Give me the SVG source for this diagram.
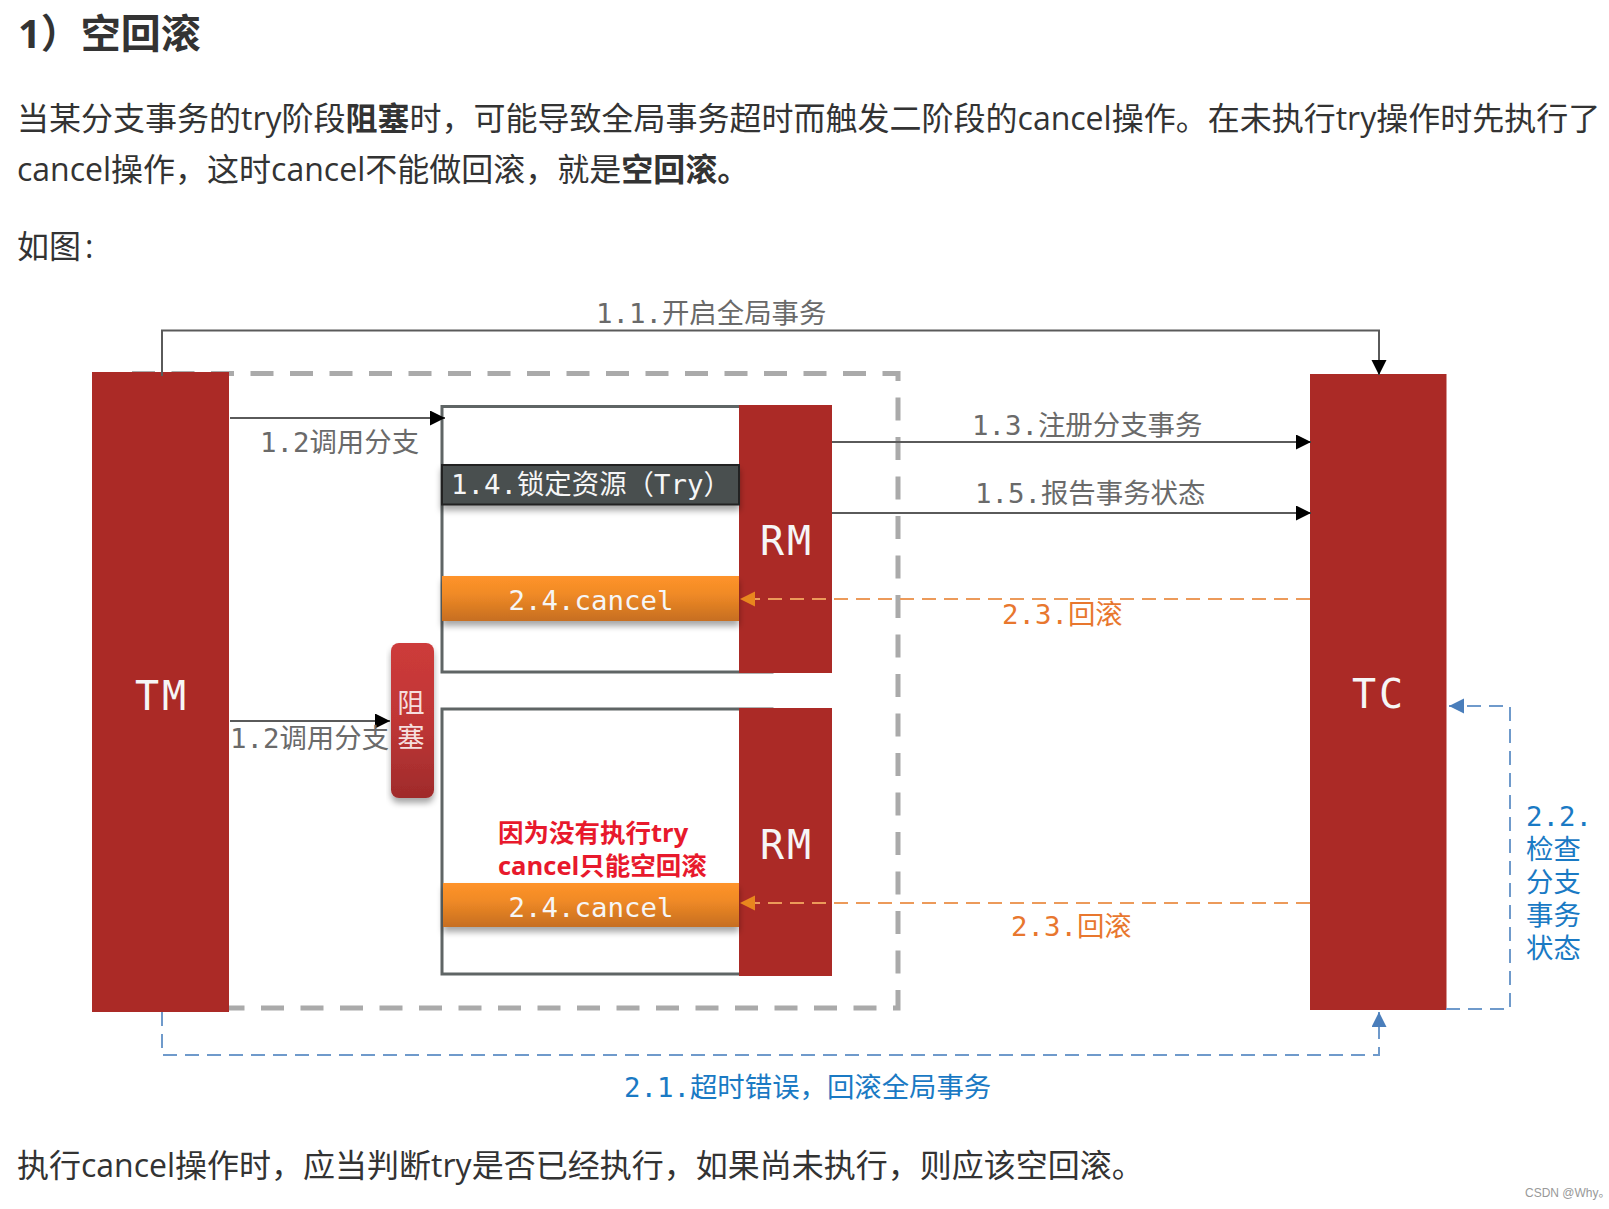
<svg xmlns="http://www.w3.org/2000/svg" width="1609" height="1209" viewBox="0 0 1609 1209">
<style>
.p{font-family:"Open Sans","Noto Sans CJK SC",sans-serif;font-size:32px;fill:#333}
.p .b,.b{font-weight:700}
.m{font-family:"DejaVu Sans Mono","Noto Sans CJK SC",monospace;font-size:27.400px}
.g{fill:#6a6a6a}
.o{fill:#e8772e}
.bl{fill:#1a7ac4}
.w{fill:#f6f6f6}
.big{font-family:"DejaVu Sans Mono",monospace;font-size:40px;letter-spacing:3px;fill:#f6f6f6;text-anchor:middle}
.red{fill:#ab2a26}
.box{fill:#fff;stroke:#5f6565;stroke-width:3}
.c{fill:none;stroke:#5a5a5a;stroke-width:2}
.co{fill:none;stroke:#ec9a5a;stroke-width:2;stroke-dasharray:14 8}
.cb{fill:none;stroke:#6f9acb;stroke-width:2;stroke-dasharray:14 8}
.rt{font-family:"Open Sans","Noto Sans CJK SC",sans-serif;font-size:25.500px;font-weight:700;fill:#e8192c}
</style>
<defs>
<marker id="ak" markerUnits="userSpaceOnUse" markerWidth="16" markerHeight="16" refX="15" refY="7.500" orient="auto"><path d="M0 0L15 7.500L0 15z" fill="#000"/></marker>
<marker id="ao" markerUnits="userSpaceOnUse" markerWidth="16" markerHeight="16" refX="15" refY="7.500" orient="auto"><path d="M0 0L15 7.500L0 15z" fill="#e8861e"/></marker>
<marker id="ab" markerUnits="userSpaceOnUse" markerWidth="16" markerHeight="16" refX="15" refY="7.500" orient="auto"><path d="M0 0L15 7.500L0 15z" fill="#4a7ebb"/></marker>
<linearGradient id="og" x1="0" y1="0" x2="0" y2="1"><stop offset="0" stop-color="#ff932a"/><stop offset=".4" stop-color="#f08a26"/><stop offset="1" stop-color="#c66e20"/></linearGradient>
<linearGradient id="rg" x1="0" y1="0" x2="0" y2="1"><stop offset="0" stop-color="#cd3b3a"/><stop offset=".5" stop-color="#c03636"/><stop offset="1" stop-color="#9f2b2b"/></linearGradient>
<filter id="sh" x="-10%" y="-20%" width="120%" height="160%"><feDropShadow dx="0" dy="5" stdDeviation="3" flood-color="#000" flood-opacity=".35"/></filter>
</defs>

<g id="prose">
<text class="p" x="18" y="48" style="font-size:40px;font-weight:700">1）空回滚</text>
<text class="p" x="17" y="130">当某分支事务的try阶段<tspan class="b">阻塞</tspan>时，可能导致全局事务超时而触发二阶段的cancel操作。在未执行try操作时先执行了</text>
<text class="p" x="17" y="181">cancel操作，这时cancel不能做回滚，就是<tspan class="b">空回滚。</tspan></text>
<text class="p" x="17" y="258">如图<tspan dx="4">:</tspan></text>
<text class="p" x="17" y="1177">执行cancel操作时，应当判断try是否已经执行，如果尚未执行，则应该空回滚。</text>
<text x="1525" y="1197" style="font-family:'Liberation Sans','Noto Sans CJK SC',sans-serif;font-size:12px;fill:#999">CSDN @Why。</text>
</g>

<g id="boundary"><path d="M132 373.500H898V1008H229" fill="none" stroke="#aaa" stroke-width="5" stroke-dasharray="23 16.500"/></g>

<g id="rm1">
<rect class="box" x="442" y="406.500" width="330" height="265.500"/>
<rect class="red" x="739" y="405" width="93" height="268"/>
<text class="big" x="787" y="555">RM</text>
</g>
<g id="rm2">
<rect class="box" x="442" y="709" width="330" height="265"/>
<rect class="red" x="739" y="708" width="93" height="268"/>
<text class="big" x="787" y="859">RM</text>
</g>
<g id="try">
<rect x="442" y="465" width="297" height="39.500" fill="#4a5050" stroke="#222" stroke-width="2" filter="url(#sh)"/>
<text class="m w" x="451" y="493.500">1.4.锁定资源（Try）</text>
</g>
<g id="cancel1">
<rect x="442" y="576" width="297" height="45" fill="url(#og)" filter="url(#sh)"/>
<text class="m w" x="591" y="609.500" text-anchor="middle">2.4.cancel</text>
</g>
<g id="cancel2">
<rect x="443" y="883" width="296" height="44" fill="url(#og)" filter="url(#sh)"/>
<text class="m w" x="591" y="916.500" text-anchor="middle">2.4.cancel</text>
<text class="rt" x="498" y="842">因为没有执行try</text>
<text class="rt" x="498" y="875">cancel只能空回滚</text>
</g>
<g id="block">
<rect x="391" y="643" width="43" height="155" rx="8" fill="url(#rg)" filter="url(#sh)"/>
<text class="m" x="411" y="713" text-anchor="middle" style="fill:#f5dede">阻</text>
<text class="m" x="411" y="747" text-anchor="middle" style="fill:#f5dede">塞</text>
</g>
<g id="tm"><rect class="red" x="92" y="372" width="137" height="640"/><text class="big" x="162" y="710">TM</text></g>
<g id="tc"><rect class="red" x="1310" y="374" width="136.500" height="636"/><text class="big" x="1379" y="708">TC</text></g>

<g id="connectors">
<path class="c" d="M162 376V330.500H1379V375" marker-end="url(#ak)"/>
<path class="c" d="M230 418H445" marker-end="url(#ak)"/>
<path class="c" d="M230 721H390" marker-end="url(#ak)"/>
<path class="c" d="M832 442H1311" marker-end="url(#ak)"/>
<path class="c" d="M832 513H1311" marker-end="url(#ak)"/>
<path class="co" d="M1310 599H740" marker-end="url(#ao)"/>
<path class="co" d="M1310 903H740" marker-end="url(#ao)"/>
<path class="cb" d="M162 1012V1055H1379V1012" marker-end="url(#ab)"/>
<path class="cb" d="M1446 1009H1510V706H1449" marker-end="url(#ab)"/>
</g>

<g id="labels">
<text class="m g" x="596" y="323">1.1.开启全局事务</text>
<text class="m g" x="260" y="452">1.2调用分支</text>
<text class="m g" x="230" y="748">1.2调用分支</text>
<text class="m g" x="972" y="435">1.3.注册分支事务</text>
<text class="m g" x="975" y="503">1.5.报告事务状态</text>
<text class="m o" x="1002" y="624">2.3.回滚</text>
<text class="m o" x="1011" y="936">2.3.回滚</text>
<text class="m bl" x="624" y="1097">2.1.超时错误，回滚全局事务</text>
<text class="m bl" x="1526" y="826">2.2.</text>
<text class="m bl" x="1526" y="859">检查</text>
<text class="m bl" x="1526" y="892">分支</text>
<text class="m bl" x="1526" y="925">事务</text>
<text class="m bl" x="1526" y="958">状态</text>
</g>
</svg>
